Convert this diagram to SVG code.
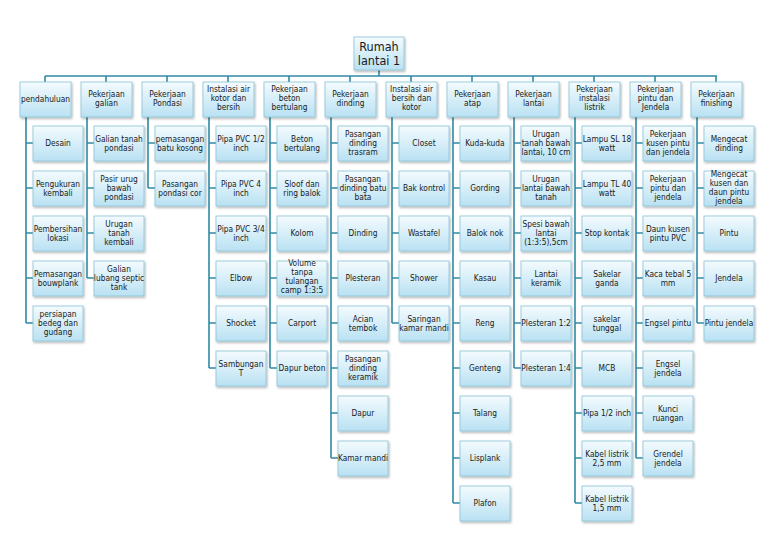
<svg xmlns="http://www.w3.org/2000/svg" width="768" height="543" viewBox="0 0 768 543">
<defs>
<linearGradient id="g" x1="0" y1="0" x2="0" y2="1"><stop offset="0" stop-color="#f4fbfe"/><stop offset="1" stop-color="#b9e1f3"/></linearGradient>
<filter id="s" x="-10%" y="-10%" width="130%" height="140%"><feDropShadow dx="1" dy="1.5" stdDeviation="0.8" flood-color="#000" flood-opacity="0.3"/></filter>
</defs>
<style>
rect{fill:url(#g);stroke:#8cc3d8;stroke-width:0.8;filter:url(#s)}
text{font-family:"DejaVu Sans Condensed","Liberation Sans Narrow","Liberation Sans",sans-serif;font-size:8.3px;fill:#1a1a1a;text-anchor:middle}
.r{font-size:12.5px}
#conn path{fill:none;stroke:#2f8aa6;stroke-width:1.6}
</style>
<rect width="768" height="543" style="fill:#fff;stroke:none;filter:none"/>
<g id="conn">
<path d="M379 70V76M45 76H717M45 76V82M106 76V82M167 76V82M228 76V82M289 76V82M350 76V82M411 76V82M472 76V82M533 76V82M594 76V82M655 76V82M716 76V82"/>
<path d="M26 117V323M26 143H33M26 188H33M26 233H33M26 278H33M26 323H33"/>
<path d="M87 117V278M87 143H94M87 188H94M87 233H94M87 278H94"/>
<path d="M148 117V188M148 143H155M148 188H155"/>
<path d="M209 117V368M209 143H216M209 188H216M209 233H216M209 278H216M209 323H216M209 368H216"/>
<path d="M270 117V368M270 143H277M270 188H277M270 233H277M270 278H277M270 323H277M270 368H277"/>
<path d="M331 117V458M331 143H338M331 188H338M331 233H338M331 278H338M331 323H338M331 368H338M331 413H338M331 458H338"/>
<path d="M392 117V323M392 143H399M392 188H399M392 233H399M392 278H399M392 323H399"/>
<path d="M453 117V503M453 143H460M453 188H460M453 233H460M453 278H460M453 323H460M453 368H460M453 413H460M453 458H460M453 503H460"/>
<path d="M514 117V368M514 143H521M514 188H521M514 233H521M514 278H521M514 323H521M514 368H521"/>
<path d="M575 117V503M575 143H582M575 188H582M575 233H582M575 278H582M575 323H582M575 368H582M575 413H582M575 458H582M575 503H582"/>
<path d="M636 117V458M636 143H643M636 188H643M636 233H643M636 278H643M636 323H643M636 368H643M636 413H643M636 458H643"/>
<path d="M697 117V323M697 143H704M697 188H704M697 233H704M697 278H704M697 323H704"/>
</g>
<g id="root"><rect x="354" y="37" width="50" height="33"/><text class="r" x="379" y="51">Rumah</text><text class="r" x="379" y="65">lantai 1</text></g>
<g id="top">
<g id="c1"><rect x="20" y="82" width="51" height="35"/><text x="45.5" y="102">pendahuluan</text></g>
<g id="c2"><rect x="81" y="82" width="51" height="35"/><text x="106.5" y="97">Pekerjaan</text><text x="106.5" y="106">galian</text></g>
<g id="c3"><rect x="142" y="82" width="51" height="35"/><text x="167.5" y="97">Pekerjaan</text><text x="167.5" y="106">Pondasi</text></g>
<g id="c4"><rect x="203" y="82" width="51" height="35"/><text x="228.5" y="92">Instalasi air</text><text x="228.5" y="101">kotor dan</text><text x="228.5" y="110">bersih</text></g>
<g id="c5"><rect x="264" y="82" width="51" height="35"/><text x="289.5" y="92">Pekerjaan</text><text x="289.5" y="101">beton</text><text x="289.5" y="110">bertulang</text></g>
<g id="c6"><rect x="325" y="82" width="51" height="35"/><text x="350.5" y="97">Pekerjaan</text><text x="350.5" y="106">dinding</text></g>
<g id="c7"><rect x="386" y="82" width="51" height="35"/><text x="411.5" y="92">Instalasi air</text><text x="411.5" y="101">bersih dan</text><text x="411.5" y="110">kotor</text></g>
<g id="c8"><rect x="447" y="82" width="51" height="35"/><text x="472.5" y="97">Pekerjaan</text><text x="472.5" y="106">atap</text></g>
<g id="c9"><rect x="508" y="82" width="51" height="35"/><text x="533.5" y="97">Pekerjaan</text><text x="533.5" y="106">lantai</text></g>
<g id="c10"><rect x="569" y="82" width="51" height="35"/><text x="594.5" y="92">Pekerjaan</text><text x="594.5" y="101">instalasi</text><text x="594.5" y="110">listrik</text></g>
<g id="c11"><rect x="630" y="82" width="51" height="35"/><text x="655.5" y="92">Pekerjaan</text><text x="655.5" y="101">pintu dan</text><text x="655.5" y="110">Jendela</text></g>
<g id="c12"><rect x="691" y="82" width="51" height="35"/><text x="716.5" y="97">Pekerjaan</text><text x="716.5" y="106">finishing</text></g>
</g>
<g id="children">
<!-- col1 x=33 -->
<g><rect x="33" y="126" width="50" height="35"/><text x="58" y="146">Desain</text></g>
<g><rect x="33" y="171" width="50" height="35"/><text x="58" y="187">Pengukuran</text><text x="58" y="196">kembali</text></g>
<g><rect x="33" y="216" width="50" height="35"/><text x="58" y="232">Pembersihan</text><text x="58" y="241">lokasi</text></g>
<g><rect x="33" y="261" width="50" height="35"/><text x="58" y="277">Pemasangan</text><text x="58" y="286">bouwplank</text></g>
<g><rect x="33" y="306" width="50" height="35"/><text x="58" y="317">persiapan</text><text x="58" y="326">bedeg dan</text><text x="58" y="335">gudang</text></g>
<!-- col2 x=94 -->
<g><rect x="94" y="126" width="50" height="35"/><text x="119" y="142">Galian tanah</text><text x="119" y="151">pondasi</text></g>
<g><rect x="94" y="171" width="50" height="35"/><text x="119" y="182">Pasir urug</text><text x="119" y="191">bawah</text><text x="119" y="200">pondasi</text></g>
<g><rect x="94" y="216" width="50" height="35"/><text x="119" y="227">Urugan</text><text x="119" y="236">tanah</text><text x="119" y="245">kembali</text></g>
<g><rect x="94" y="261" width="50" height="35"/><text x="119" y="272">Galian</text><text x="119" y="281">lubang septic</text><text x="119" y="290">tank</text></g>
<!-- col3 x=155 -->
<g><rect x="155" y="126" width="50" height="35"/><text x="180" y="142">pemasangan</text><text x="180" y="151">batu kosong</text></g>
<g><rect x="155" y="171" width="50" height="35"/><text x="180" y="187">Pasangan</text><text x="180" y="196">pondasi cor</text></g>
<!-- col4 x=216 -->
<g><rect x="216" y="126" width="50" height="35"/><text x="241" y="142">Pipa PVC 1/2</text><text x="241" y="151">inch</text></g>
<g><rect x="216" y="171" width="50" height="35"/><text x="241" y="187">Pipa PVC 4</text><text x="241" y="196">inch</text></g>
<g><rect x="216" y="216" width="50" height="35"/><text x="241" y="232">Pipa PVC 3/4</text><text x="241" y="241">inch</text></g>
<g><rect x="216" y="261" width="50" height="35"/><text x="241" y="281">Elbow</text></g>
<g><rect x="216" y="306" width="50" height="35"/><text x="241" y="326">Shocket</text></g>
<g><rect x="216" y="351" width="50" height="35"/><text x="241" y="367">Sambungan</text><text x="241" y="376">T</text></g>
<!-- col5 x=277 -->
<g><rect x="277" y="126" width="50" height="35"/><text x="302" y="142">Beton</text><text x="302" y="151">bertulang</text></g>
<g><rect x="277" y="171" width="50" height="35"/><text x="302" y="187">Sloof dan</text><text x="302" y="196">ring balok</text></g>
<g><rect x="277" y="216" width="50" height="35"/><text x="302" y="236">Kolom</text></g>
<g><rect x="277" y="261" width="50" height="35"/><text x="302" y="266">Volume</text><text x="302" y="275">tanpa</text><text x="302" y="284">tulangan</text><text x="302" y="293">camp 1:3:5</text></g>
<g><rect x="277" y="306" width="50" height="35"/><text x="302" y="326">Carport</text></g>
<g><rect x="277" y="351" width="50" height="35"/><text x="302" y="371">Dapur beton</text></g>
<!-- col6 x=338 -->
<g><rect x="338" y="126" width="50" height="35"/><text x="363" y="137">Pasangan</text><text x="363" y="146">dinding</text><text x="363" y="155">trasram</text></g>
<g><rect x="338" y="171" width="50" height="35"/><text x="363" y="182">Pasangan</text><text x="363" y="191">dinding batu</text><text x="363" y="200">bata</text></g>
<g><rect x="338" y="216" width="50" height="35"/><text x="363" y="236">Dinding</text></g>
<g><rect x="338" y="261" width="50" height="35"/><text x="363" y="281">Plesteran</text></g>
<g><rect x="338" y="306" width="50" height="35"/><text x="363" y="322">Acian</text><text x="363" y="331">tembok</text></g>
<g><rect x="338" y="351" width="50" height="35"/><text x="363" y="362">Pasangan</text><text x="363" y="371">dinding</text><text x="363" y="380">keramik</text></g>
<g><rect x="338" y="396" width="50" height="35"/><text x="363" y="416">Dapur</text></g>
<g><rect x="338" y="441" width="50" height="35"/><text x="363" y="461">Kamar mandi</text></g>
<!-- col7 x=399 -->
<g><rect x="399" y="126" width="50" height="35"/><text x="424" y="146">Closet</text></g>
<g><rect x="399" y="171" width="50" height="35"/><text x="424" y="191">Bak kontrol</text></g>
<g><rect x="399" y="216" width="50" height="35"/><text x="424" y="236">Wastafel</text></g>
<g><rect x="399" y="261" width="50" height="35"/><text x="424" y="281">Shower</text></g>
<g><rect x="399" y="306" width="50" height="35"/><text x="424" y="322">Saringan</text><text x="424" y="331">kamar mandi</text></g>
<!-- col8 x=460 -->
<g><rect x="460" y="126" width="50" height="35"/><text x="485" y="146">Kuda-kuda</text></g>
<g><rect x="460" y="171" width="50" height="35"/><text x="485" y="191">Gording</text></g>
<g><rect x="460" y="216" width="50" height="35"/><text x="485" y="236">Balok nok</text></g>
<g><rect x="460" y="261" width="50" height="35"/><text x="485" y="281">Kasau</text></g>
<g><rect x="460" y="306" width="50" height="35"/><text x="485" y="326">Reng</text></g>
<g><rect x="460" y="351" width="50" height="35"/><text x="485" y="371">Genteng</text></g>
<g><rect x="460" y="396" width="50" height="35"/><text x="485" y="416">Talang</text></g>
<g><rect x="460" y="441" width="50" height="35"/><text x="485" y="461">Lisplank</text></g>
<g><rect x="460" y="486" width="50" height="35"/><text x="485" y="506">Plafon</text></g>
<!-- col9 x=521 -->
<g><rect x="521" y="126" width="50" height="35"/><text x="546" y="137">Urugan</text><text x="546" y="146">tanah bawah</text><text x="546" y="155">lantai, 10 cm</text></g>
<g><rect x="521" y="171" width="50" height="35"/><text x="546" y="182">Urugan</text><text x="546" y="191">lantai bawah</text><text x="546" y="200">tanah</text></g>
<g><rect x="521" y="216" width="50" height="35"/><text x="546" y="227">Spesi bawah</text><text x="546" y="236">lantai</text><text x="546" y="245">(1:3:5),5cm</text></g>
<g><rect x="521" y="261" width="50" height="35"/><text x="546" y="277">Lantai</text><text x="546" y="286">keramik</text></g>
<g><rect x="521" y="306" width="50" height="35"/><text x="546" y="326">Plesteran 1:2</text></g>
<g><rect x="521" y="351" width="50" height="35"/><text x="546" y="371">Plesteran 1:4</text></g>
<!-- col10 x=582 -->
<g><rect x="582" y="126" width="50" height="35"/><text x="607" y="142">Lampu SL 18</text><text x="607" y="151">watt</text></g>
<g><rect x="582" y="171" width="50" height="35"/><text x="607" y="187">Lampu TL 40</text><text x="607" y="196">watt</text></g>
<g><rect x="582" y="216" width="50" height="35"/><text x="607" y="236">Stop kontak</text></g>
<g><rect x="582" y="261" width="50" height="35"/><text x="607" y="277">Sakelar</text><text x="607" y="286">ganda</text></g>
<g><rect x="582" y="306" width="50" height="35"/><text x="607" y="322">sakelar</text><text x="607" y="331">tunggal</text></g>
<g><rect x="582" y="351" width="50" height="35"/><text x="607" y="371">MCB</text></g>
<g><rect x="582" y="396" width="50" height="35"/><text x="607" y="416">Pipa 1/2 inch</text></g>
<g><rect x="582" y="441" width="50" height="35"/><text x="607" y="457">Kabel listrik</text><text x="607" y="466">2,5 mm</text></g>
<g><rect x="582" y="486" width="50" height="35"/><text x="607" y="502">Kabel listrik</text><text x="607" y="511">1,5 mm</text></g>
<!-- col11 x=643 -->
<g><rect x="643" y="126" width="50" height="35"/><text x="668" y="137">Pekerjaan</text><text x="668" y="146">kusen pintu</text><text x="668" y="155">dan jendela</text></g>
<g><rect x="643" y="171" width="50" height="35"/><text x="668" y="182">Pekerjaan</text><text x="668" y="191">pintu dan</text><text x="668" y="200">jendela</text></g>
<g><rect x="643" y="216" width="50" height="35"/><text x="668" y="232">Daun kusen</text><text x="668" y="241">pintu PVC</text></g>
<g><rect x="643" y="261" width="50" height="35"/><text x="668" y="277">Kaca tebal 5</text><text x="668" y="286">mm</text></g>
<g><rect x="643" y="306" width="50" height="35"/><text x="668" y="326">Engsel pintu</text></g>
<g><rect x="643" y="351" width="50" height="35"/><text x="668" y="367">Engsel</text><text x="668" y="376">jendela</text></g>
<g><rect x="643" y="396" width="50" height="35"/><text x="668" y="412">Kunci</text><text x="668" y="421">ruangan</text></g>
<g><rect x="643" y="441" width="50" height="35"/><text x="668" y="457">Grendel</text><text x="668" y="466">jendela</text></g>
<!-- col12 x=704 -->
<g><rect x="704" y="126" width="50" height="35"/><text x="729" y="142">Mengecat</text><text x="729" y="151">dinding</text></g>
<g><rect x="704" y="171" width="50" height="35"/><text x="729" y="177">Mengecat</text><text x="729" y="186">kusen dan</text><text x="729" y="195">daun pintu</text><text x="729" y="204">jendela</text></g>
<g><rect x="704" y="216" width="50" height="35"/><text x="729" y="236">Pintu</text></g>
<g><rect x="704" y="261" width="50" height="35"/><text x="729" y="281">Jendela</text></g>
<g><rect x="704" y="306" width="50" height="35"/><text x="729" y="326">Pintu jendela</text></g>
</g>
</svg>
